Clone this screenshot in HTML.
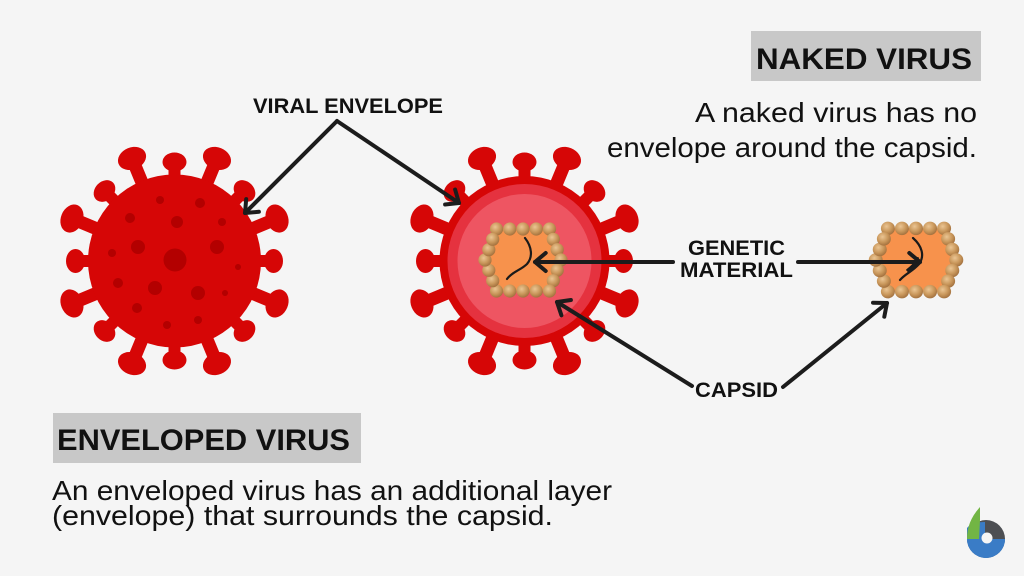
<!DOCTYPE html>
<html><head><meta charset="utf-8"><style>
html,body{margin:0;padding:0;background:#f5f5f5;}
svg{display:block;}
.lb{font-family:"Liberation Sans",sans-serif;font-weight:700;fill:#111;}
.hw{font-family:"Liberation Sans",sans-serif;font-weight:400;fill:#111;}
</style></head><body>
<svg width="1024" height="576" viewBox="0 0 1024 576" xmlns="http://www.w3.org/2000/svg">
<defs>
<radialGradient id="bead" cx="40%" cy="35%" r="65%">
<stop offset="0" stop-color="#ebc593"/><stop offset="0.6" stop-color="#c9975b"/><stop offset="1" stop-color="#a57340"/>
</radialGradient>
<g id="sS"><rect x="-6" y="-100" width="12" height="30"/><ellipse cx="0" cy="-99" rx="12" ry="9.5"/></g>
<g id="sL"><rect x="-6.5" y="-112" width="13" height="42"/><ellipse cx="0" cy="-111" rx="14.5" ry="11"/></g>
<g id="spikes" fill="#d60606">
<use href="#sS" transform="rotate(0)"/><use href="#sL" transform="rotate(22.5)"/>
<use href="#sS" transform="rotate(45)"/><use href="#sL" transform="rotate(67.5)"/>
<use href="#sS" transform="rotate(90)"/><use href="#sL" transform="rotate(112.5)"/>
<use href="#sS" transform="rotate(135)"/><use href="#sL" transform="rotate(157.5)"/>
<use href="#sS" transform="rotate(180)"/><use href="#sL" transform="rotate(202.5)"/>
<use href="#sS" transform="rotate(225)"/><use href="#sL" transform="rotate(247.5)"/>
<use href="#sS" transform="rotate(270)"/><use href="#sL" transform="rotate(292.5)"/>
<use href="#sS" transform="rotate(315)"/><use href="#sL" transform="rotate(337.5)"/>
</g>
<g id="capsid">
<polygon points="-26.5,-31 26.5,-31 38,0 26.5,31 -26.5,31 -38,0" fill="#f7924c"/>
<g fill="url(#bead)">
<circle cx="-26.5" cy="-31" r="6.6"/><circle cx="-13.25" cy="-31" r="6.6"/><circle cx="0" cy="-31" r="6.6"/><circle cx="13.25" cy="-31" r="6.6"/><circle cx="26.5" cy="-31" r="6.6"/>
<circle cx="30.3" cy="-20.7" r="6.6"/><circle cx="34.2" cy="-10.3" r="6.6"/><circle cx="38" cy="0" r="6.6"/><circle cx="34.2" cy="10.3" r="6.6"/><circle cx="30.3" cy="20.7" r="6.6"/>
<circle cx="26.5" cy="31" r="6.6"/><circle cx="13.25" cy="31" r="6.6"/><circle cx="0" cy="31" r="6.6"/><circle cx="-13.25" cy="31" r="6.6"/><circle cx="-26.5" cy="31" r="6.6"/>
<circle cx="-30.3" cy="20.7" r="6.6"/><circle cx="-34.2" cy="10.3" r="6.6"/><circle cx="-38" cy="0" r="6.6"/><circle cx="-34.2" cy="-10.3" r="6.6"/><circle cx="-30.3" cy="-20.7" r="6.6"/>
</g>
</g>
</defs>

<rect width="1024" height="576" fill="#f5f5f5"/>

<!-- Left enveloped virus -->
<g transform="translate(174.5,261)">
<use href="#spikes"/>
<circle r="86.5" fill="#d60606"/>
</g>
<g fill="#b30000">
<circle cx="175" cy="260" r="11.5"/>
<circle cx="160" cy="200" r="4"/><circle cx="200" cy="203" r="5"/><circle cx="130" cy="218" r="5"/>
<circle cx="177" cy="222" r="6"/><circle cx="222" cy="222" r="4"/><circle cx="138" cy="247" r="7"/>
<circle cx="217" cy="247" r="7"/><circle cx="112" cy="253" r="4"/><circle cx="238" cy="267" r="3"/>
<circle cx="118" cy="283" r="5"/><circle cx="155" cy="288" r="7"/><circle cx="198" cy="293" r="7"/>
<circle cx="225" cy="293" r="3"/><circle cx="137" cy="308" r="5"/><circle cx="167" cy="325" r="4"/>
<circle cx="198" cy="320" r="4"/>
</g>

<!-- Middle virus -->
<g transform="translate(524.5,261)">
<use href="#spikes"/>
<circle r="85" fill="#d60606"/>
<circle r="77" fill="#e5323f"/>
<circle r="67" fill="#ee5562"/>
</g>
<use href="#capsid" transform="translate(523,260)"/>
<path d="M525,238 C532,247 533,257 527,264 C521,270 512,272 507,279" fill="none" stroke="#1a1a1a" stroke-width="2.2" stroke-linecap="round"/>

<!-- Right naked capsid -->
<use href="#capsid" transform="translate(916,260) scale(1.06,1.02)"/>
<path d="M913,238 C922,246 925,256 919,264 C913,271 905,274 900,280" fill="none" stroke="#1a1a1a" stroke-width="2.2" stroke-linecap="round"/>
<path d="M907,270 C912,266 916,262 918,258" fill="none" stroke="#1a1a1a" stroke-width="1.8" stroke-linecap="round"/>

<!-- Arrows -->
<g fill="none" stroke="#1c1c1c" stroke-width="4" stroke-linecap="round" stroke-linejoin="round">
<path d="M337,121 L245,213"/><path d="M258.9,211.8 L245,213 L246.2,199.1"/>
<path d="M337,121 L459,203"/><path d="M455.1,189.5 L459,203 L445.1,204.5"/>
<path d="M673,262 L535,262"/><path d="M545.7,253 L535,262 L545.7,271"/>
<path d="M798,262 L920,262"/><path d="M909.3,253 L920,262 L909.3,271"/>
<path d="M692,386 L557,302"/><path d="M561.4,315.3 L557,302 L570.9,300"/>
<path d="M783,387 L887,303"/><path d="M873,302.7 L887,303 L884.3,316.7"/>
</g>

<!-- Labels -->
<text class="lb" x="253" y="113" font-size="21" textLength="190" lengthAdjust="spacingAndGlyphs">VIRAL ENVELOPE</text>
<text class="lb" x="688" y="255" font-size="21" textLength="97" lengthAdjust="spacingAndGlyphs">GENETIC</text>
<text class="lb" x="680" y="277" font-size="21" textLength="113" lengthAdjust="spacingAndGlyphs">MATERIAL</text>
<text class="lb" x="695" y="397" font-size="21" textLength="83" lengthAdjust="spacingAndGlyphs">CAPSID</text>

<!-- Headers -->
<rect x="751" y="31" width="230" height="50" fill="#c8c8c8"/>
<text class="lb" x="756" y="69" font-size="30" textLength="216" lengthAdjust="spacingAndGlyphs">NAKED VIRUS</text>
<rect x="53" y="413" width="308" height="50" fill="#c8c8c8"/>
<text class="lb" x="57" y="450" font-size="30" textLength="293" lengthAdjust="spacingAndGlyphs">ENVELOPED VIRUS</text>

<!-- Descriptions -->
<text class="hw" x="695" y="122" font-size="28" textLength="282" lengthAdjust="spacingAndGlyphs">A naked virus has no</text>
<text class="hw" x="607" y="157" font-size="28" textLength="370" lengthAdjust="spacingAndGlyphs">envelope around the capsid.</text>
<text class="hw" x="52" y="500" font-size="28" textLength="560" lengthAdjust="spacingAndGlyphs">An enveloped virus has an additional layer</text>
<text class="hw" x="52" y="525" font-size="28" textLength="501" lengthAdjust="spacingAndGlyphs">(envelope) that surrounds the capsid.</text>

<!-- Logo -->
<g>
<circle cx="986" cy="539" r="19" fill="#4d4f53"/>
<path d="M967,539 L967,528 C970,524 976,522 985,522 L985,539 L1005,539 A19,19 0 0 1 967,539 Z" fill="#3a7cc6"/>
<path d="M967,539 A19,19 0 0 0 1005,539 Z" fill="#3a7cc6"/>
<path d="M980,507 C971,517 967,527 967,539 L979,539 L980,520 Z" fill="#72b544"/>
<circle cx="987" cy="538" r="5.5" fill="#f5f5f5"/>
</g>
</svg>
</body></html>
